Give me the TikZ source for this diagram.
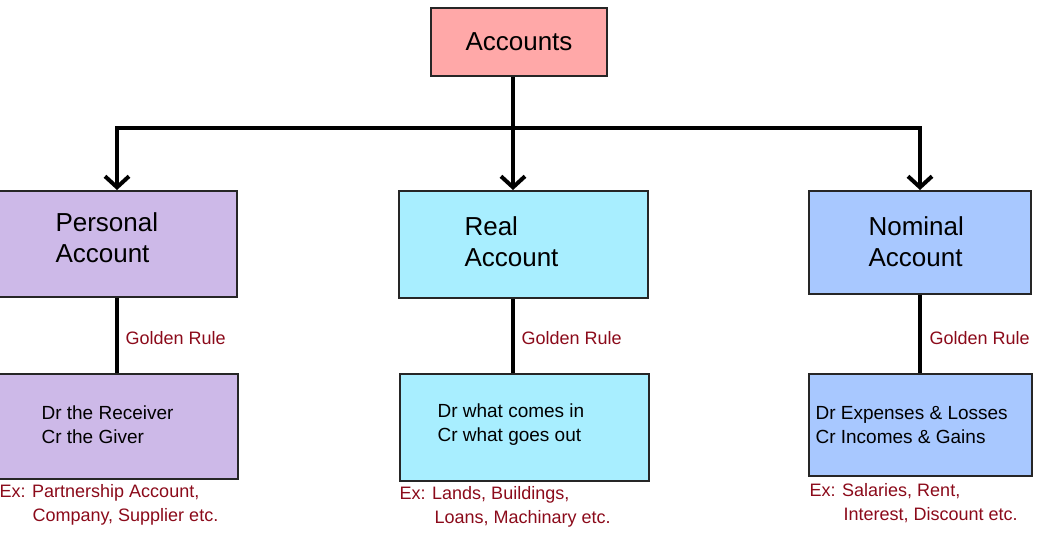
\documentclass[tikz,border=0pt]{standalone}
\usepackage{fontspec}
\setmainfont{Liberation Sans}
\usetikzlibrary{arrows.meta}
\definecolor{pinkf}{HTML}{FFA8A8}
\definecolor{purf}{HTML}{CDB9E8}
\definecolor{cyanf}{HTML}{A8EEFF}
\definecolor{bluef}{HTML}{A8C8FF}
\definecolor{rulec}{HTML}{8B0A1A}
\tikzset{
  box/.style={draw=black!85, line width=2pt, anchor=north west, inner sep=0pt},
  conn/.style={line width=4.5pt, black},
  arr/.style={conn, -{Straight Barb[length=11pt,width=24pt,line width=4pt]}},
  bigtxt/.style={font=\fontsize{26}{31}\selectfont, align=left, anchor=west},
  midtxt/.style={font=\fontsize{19}{24}\selectfont, align=left, anchor=west},
  extxt/.style={font=\fontsize{18}{24}\selectfont, text=rulec, align=left, anchor=north west},
}
\begin{document}
\begin{tikzpicture}[x=1pt,y=-1pt]
\useasboundingbox (0,0) rectangle (1038,545);
\node[box, fill=pinkf, minimum width=176pt, minimum height=68pt] (acc) at (430,7) {};
\node[font=\fontsize{26}{31}\selectfont] (acct) at (acc.center) {Accounts};
\node[box, fill=purf, minimum width=241pt, minimum height=106pt] (p1) at (-5,190) {};
\node[box, fill=cyanf, minimum width=249pt, minimum height=107pt] (r1) at (398,190) {};
\node[box, fill=bluef, minimum width=222pt, minimum height=103pt] (n1) at (808,190) {};
\node[box, fill=purf, minimum width=242pt, minimum height=105pt] (p2) at (-5,373) {};
\node[box, fill=cyanf, minimum width=249pt, minimum height=107pt] (r2) at (399,373) {};
\node[box, fill=bluef, minimum width=223pt, minimum height=102pt] (n2) at (808,373) {};
\node[bigtxt] (t1) at (52,238) {Personal\\Account};
\node[bigtxt] (t2) at (461,242) {Real\\Account};
\node[bigtxt] (t3) at (865,242) {Nominal\\Account};
\node[midtxt] (m1) at (38,425) {Dr the Receiver\\Cr the Giver};
\node[midtxt] (m2) at (434,425) {Dr what comes in\\Cr what goes out};
\node[midtxt] (m3) at (812,425) {Dr Expenses \& Losses\\Cr Incomes \& Gains};
\node[extxt, anchor=west] (g1) at (122,338) {Golden Rule};
\node[extxt, anchor=west] (g2) at (518,338) {Golden Rule};
\node[extxt, anchor=west] (g3) at (926,338) {Golden Rule};
\node[extxt] (e1) at (-4,481) {Ex: Partnership Account,\\\hspace*{33pt}Company, Supplier etc.};
\node[extxt] (e2) at (396,483) {Ex: Lands, Buildings,\\\hspace*{35pt}Loans, Machinary etc.};
\node[extxt] (e3) at (806,480) {Ex: Salaries, Rent,\\\hspace*{34pt}Interest, Discount etc.};
\coordinate (hl) at (117,128);
\coordinate (hm) at (513,128);
\coordinate (hr) at (920,128);
\draw[conn] (acc.south -| hm) -- (hm);
\draw[conn, line cap=rect] (hl) -- (hr);
\draw[arr] (hl) -- (hl |- p1.north);
\draw[arr] (hm) -- (hm |- r1.north);
\draw[arr] (hr) -- (hr |- n1.north);
\draw[conn] (hl |- p1.south) -- (hl |- p2.north);
\draw[conn] (hm |- r1.south) -- (hm |- r2.north);
\draw[conn] (hr |- n1.south) -- (hr |- n2.north);
\end{tikzpicture}
\end{document}
